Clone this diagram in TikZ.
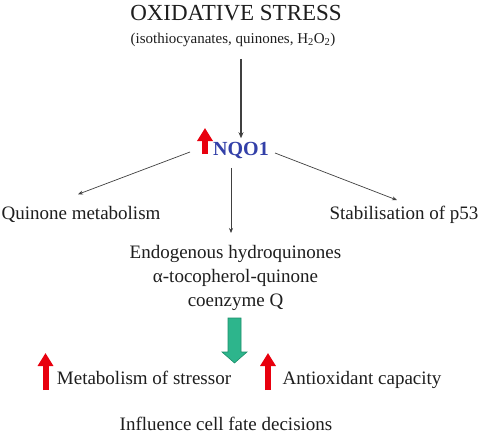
\documentclass[tikz,border=0pt]{standalone}
\usepackage{fontspec}
\setmainfont{Liberation Serif}
\usetikzlibrary{arrows.meta,calc}
\definecolor{UpRed}{HTML}{E8000E}
\definecolor{NqoBlue}{HTML}{3340A8}
\definecolor{Teal}{HTML}{2DB58C}
\definecolor{TealDark}{HTML}{1C8F6A}
\definecolor{Ink}{HTML}{1E1E1E}

\begin{document}
\begin{tikzpicture}[x=1pt,y=-1pt,
    lbl/.style={anchor=base,text=Ink,font=\fontsize{19}{24}\selectfont},
    redup/.style={UpRed,line width=6pt,-{Triangle[length=13pt,width=15pt]}},
    link/.style={draw=Ink!85,line width=0.7pt,-{Stealth[length=5pt,width=4pt]}}]
    \useasboundingbox[fill=white] (0,0) rectangle (482,437);

    \node[anchor=base,text=Ink,font=\fontsize{23}{26}\selectfont] (stress) at (236,20) {OXIDATIVE STRESS};
    \node[anchor=base,text=Ink,font=\fontsize{15}{18}\selectfont] (agents) at (233,43) {(isothiocyanates, quinones, H\textsubscript{2}O\textsubscript{2})};

    \node[anchor=base,text=NqoBlue,font=\fontsize{20}{24}\selectfont\bfseries] (nqo) at (241,155) {NQO1};
    \draw[redup] (205,154) -- (205,128);

    \node[lbl] (quin) at (81,219) {Quinone metabolism};
    \node[lbl] (stab) at (404,219) {Stabilisation of p53};
    \node[lbl,anchor=north,align=center] (hydro) at (235.5,242) {Endogenous hydroquinones\\α-tocopherol-quinone\\coenzyme Q};

    % links out of NQO1
    \coordinate (qsrc) at (190,152);
    \coordinate (psrc) at (275,153);
    \draw[link,line width=1.6pt,-{Stealth[length=6pt,width=5pt]},shorten <=9pt] (nqo.north |- agents.south) -- (nqo.north);
    \draw[link] (qsrc) -- ([yshift=8pt,xshift=-3pt]quin.north);
    \draw[link] (psrc) -- ([yshift=2pt,xshift=-7pt]stab.north);
    \draw[link,shorten <=6pt] ([xshift=-10pt]nqo.south) -- ([yshift=9pt,xshift=-4.5pt]hydro.north);

    % green block arrow
    \draw[TealDark,fill=Teal,line width=0.6pt,shift={(234.5,318)}] (-6.5,0) -- (6.5,0) -- (6.5,34) -- (12.5,34) -- (0,45) -- (-12.5,34) -- (-6.5,34) -- cycle;

    \draw[redup] (45.5,390) -- (45.5,353);
    \node[lbl] (metab) at (144,384) {Metabolism of stressor};
    \draw[redup] (268,390) -- (268,353);
    \node[lbl] (antiox) at (362,384) {Antioxidant capacity};

    \node[lbl] (fate) at (226,430) {Influence cell fate decisions};
  \end{tikzpicture}
\end{document}
